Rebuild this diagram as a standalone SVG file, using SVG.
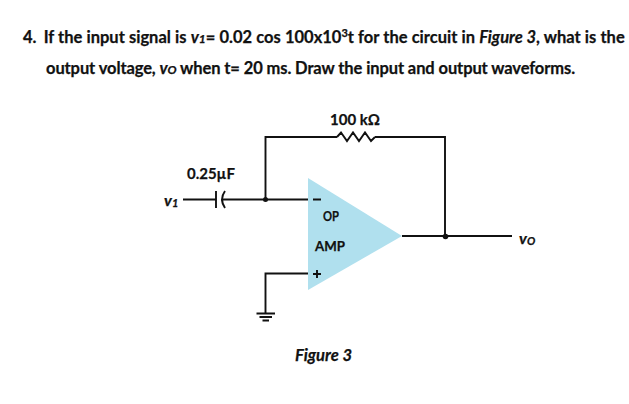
<svg xmlns="http://www.w3.org/2000/svg" width="629" height="404" viewBox="0 0 629 404">
<style>
text{font-family:"Lato","Liberation Sans",sans-serif;font-weight:700;fill:#111;stroke:#111;stroke-width:.25}
.q{font-size:16.500px;letter-spacing:-.1px}
.q1{letter-spacing:0;word-spacing:.15px}
.l{font-size:16px}
.i{font-style:italic}
.w{fill:none;stroke:#111;stroke-width:1.900}
.d{fill:#111}
</style>
<rect width="629" height="404" fill="#fff"/>
<g id="question">
<text class="q q1" x="23" y="43">4.  <tspan dx="3">If the input signal is </tspan><tspan class="i">v</tspan><tspan class="i" font-size="12">1</tspan>= 0.02 cos 100x10<tspan font-size="11" dy="-6">3</tspan><tspan dy="6">t for the circuit in </tspan><tspan class="i">Figure 3</tspan>, what is the</text>
<text class="q" x="46" y="74">output voltage, <tspan class="i">v</tspan><tspan class="i" font-size="12">O</tspan> when t= 20 ms. Draw the input and output waveforms.</text>
</g>
<g id="opamp">
<polygon points="308,178 402,236 308,290" fill="#b0e0ee"/>
<text x="323" y="221" font-size="13" textLength="16" lengthAdjust="spacingAndGlyphs">OP</text>
<text x="315" y="251" font-size="13" textLength="30" lengthAdjust="spacingAndGlyphs">AMP</text>
<path d="M313,199.500H321M313,274H321M317,270V278" class="w"/>
</g>
<g id="connectors">
<path class="w" d="M183,199.500H216M223,199.500H308"/>
<path class="w" d="M265.500,199.500V137H337M375,137H445V236"/>
<path class="w" d="M402,236H512"/>
<path class="w" d="M308,273.500H265.500V313"/>
<circle class="d" cx="265.500" cy="199.500" r="2.500"/>
<circle class="d" cx="445.500" cy="236.500" r="2.800"/>
</g>
<g id="capacitor">
<path class="w" d="M216,191V208" stroke-width="2.200"/>
<path class="w" d="M225,191Q219,199.500 225,208" stroke-width="2.200"/>
<text class="l" x="187" y="179" textLength="48" lengthAdjust="spacingAndGlyphs">0.25µF</text>
</g>
<g id="resistor">
<path class="w" d="M337,137L341,132.500L347,141L353,132.500L359,141L365,132.500L371,141L375,137"/>
<text class="l" x="330" y="125" textLength="50" lengthAdjust="spacingAndGlyphs">100 kΩ</text>
</g>
<g id="ground">
<path class="w" d="M256.500,313.500H275M259.500,317H272M262.500,320.500H269"/>
</g>
<g id="labels">
<text class="l i" x="164" y="206">v<tspan font-size="11" dy="1">1</tspan></text>
<text class="l i" x="519" y="244">v<tspan font-size="11" dy="1">O</tspan></text>
<text class="i" x="295" y="361" font-size="17" textLength="57" lengthAdjust="spacingAndGlyphs">Figure 3</text>
</g>
</svg>
